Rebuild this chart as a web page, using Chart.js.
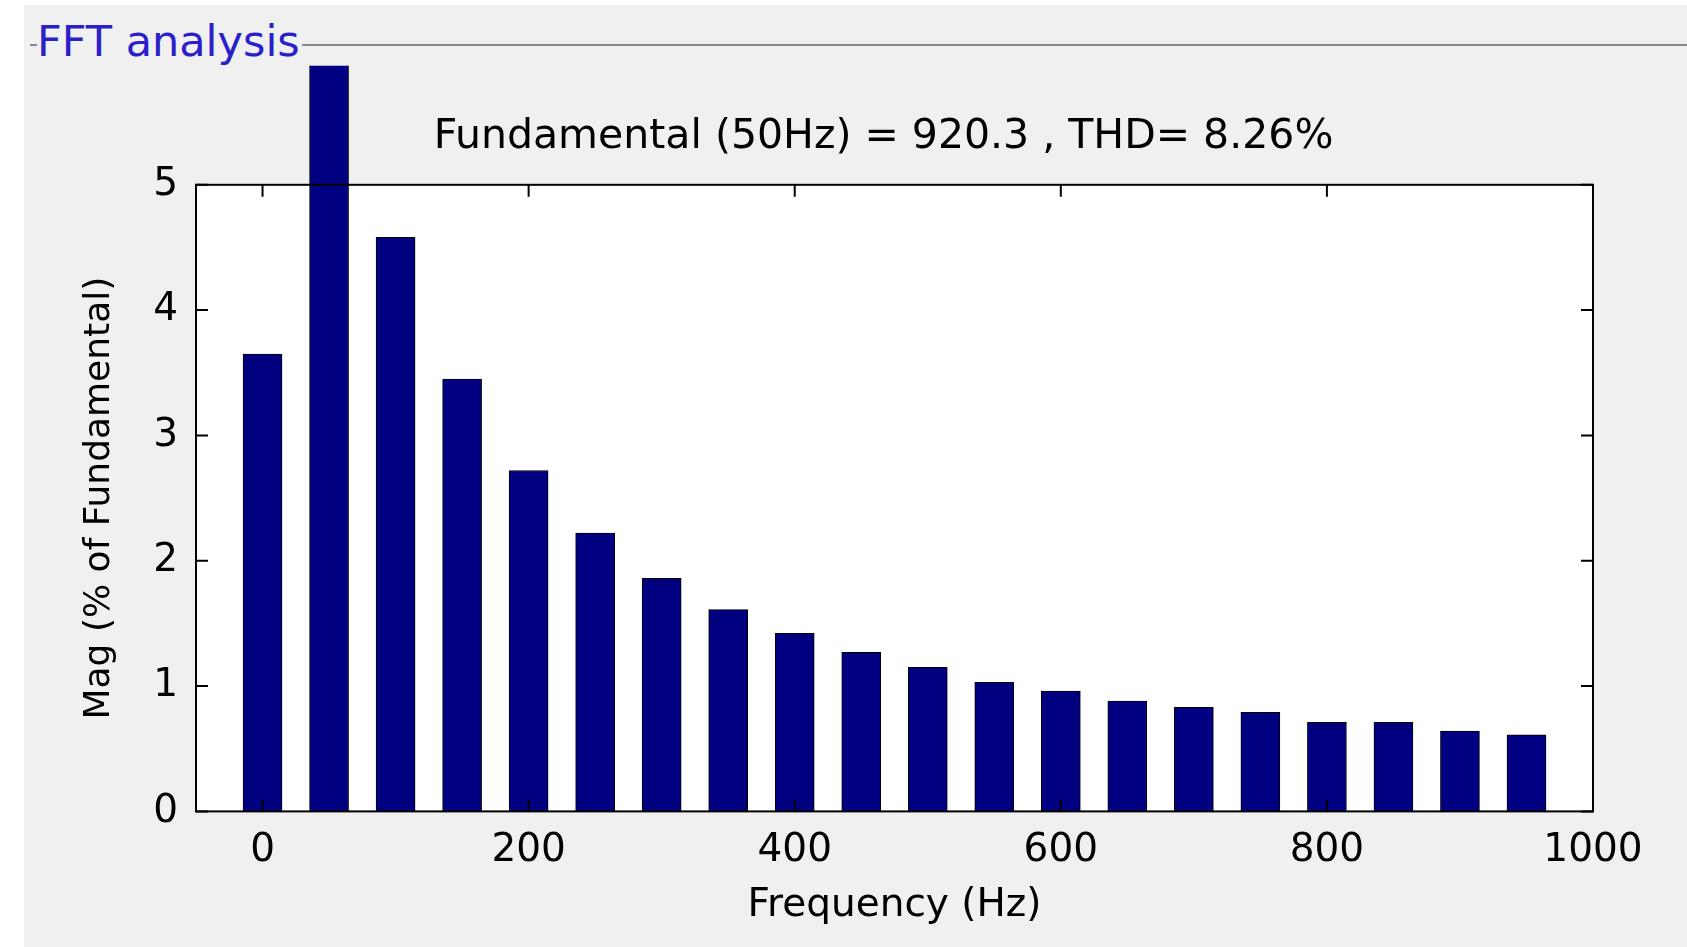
<!DOCTYPE html>
<html><head><meta charset="utf-8">
<script src="https://cdn.jsdelivr.net/npm/chart.js@4"></script>
<style>
html,body{margin:0;padding:0;background:#fff;}
#wrap{position:absolute;left:24px;top:5px;width:1663px;height:942px;background:#f0f0f0;}
#lbl{position:absolute;left:37px;top:16px;font:43px "DejaVu Sans",sans-serif;color:#2a1fc8;background:#f0f0f0;padding-right:2px;z-index:2}
#line{position:absolute;left:30px;right:0;top:44px;border-top:2px solid #888;}
#cv{position:absolute;left:24px;top:60px;}
</style></head><body>
<div id="wrap"></div><div id="line"></div><div id="lbl">FFT analysis</div>
<canvas id="cv" width="1663" height="887"></canvas>
<script>
const frequencies=[0,50,100,150,200,250,300,350,400,450,500,550,600,650,700,750,800,850,900,950];
const magnitudes=[3.65,100,4.58,3.45,2.72,2.22,1.86,1.61,1.42,1.27,1.15,1.03,0.96,0.88,0.83,0.79,0.71,0.71,0.64,0.61];
const xTicks=[0,200,400,600,800,1000];
const yTicks=[0,1,2,3,4,5];
const titleText='Fundamental (50Hz) = 920.3 , THD= 8.26%';
const F='"DejaVu Sans", sans-serif';
const frame={id:'frame',afterDraw(c){const a=c.chartArea,x=c.scales.x,y=c.scales.y,g=c.ctx;g.save();g.strokeStyle='#000';g.lineWidth=2;g.strokeRect(a.left,a.top,a.right-a.left,a.bottom-a.top);
const L=12;g.beginPath();xTicks.forEach(v=>{const p=x.getPixelForValue(v);g.moveTo(p,a.bottom);g.lineTo(p,a.bottom-L);g.moveTo(p,a.top);g.lineTo(p,a.top+L);});
yTicks.forEach(v=>{const p=y.getPixelForValue(v);g.moveTo(a.left,p);g.lineTo(a.left+L,p);g.moveTo(a.right,p);g.lineTo(a.right-L,p);});g.stroke();
g.fillStyle='#000';g.font='41px '+F;g.textAlign='center';g.textBaseline='middle';g.fillText(titleText,(a.left+a.right)/2-11,a.top-47);g.restore();}};
new Chart(document.getElementById('cv'),{type:'bar',
data:{datasets:[{data:frequencies.map((f,i)=>({x:f,y:magnitudes[i]})),backgroundColor:'#000080',borderColor:'#000',borderWidth:1,barThickness:39,clip:{left:0,right:0,bottom:0,top:119}}]},
options:{responsive:false,animation:false,
layout:{padding:{left:50,right:94,top:0,bottom:14}},
plugins:{legend:{display:false},tooltip:{enabled:false},
title:{display:true,text:titleText,color:'rgba(0,0,0,0)',font:{family:F,size:39,weight:'normal'},padding:{top:48,bottom:30}}},
scales:{
x:{type:'linear',offset:false,min:-50,max:1000,grid:{display:false},border:{display:false},
afterBuildTicks(s){s.ticks=xTicks.map(v=>({value:v}));},
ticks:{color:'#000',font:{family:F,size:39},padding:8,callback:v=>String(v)},
title:{display:true,text:'Frequency (Hz)',color:'#000',font:{family:F,size:39},padding:{top:0}}},
y:{min:0,max:5,grid:{display:false},border:{display:false},
afterBuildTicks(s){s.ticks=yTicks.map(v=>({value:v}));},
ticks:{color:'#000',font:{family:F,size:39},padding:10},
title:{display:true,text:'Mag (% of Fundamental)',color:'#000',font:{family:F,size:36},padding:{bottom:22}}}}},
plugins:[{id:'bg',beforeDraw(c){const a=c.chartArea,g=c.ctx;g.save();g.fillStyle='#fff';g.fillRect(a.left,a.top,a.right-a.left,a.bottom-a.top);g.restore();}},frame]});
</script></body></html>
